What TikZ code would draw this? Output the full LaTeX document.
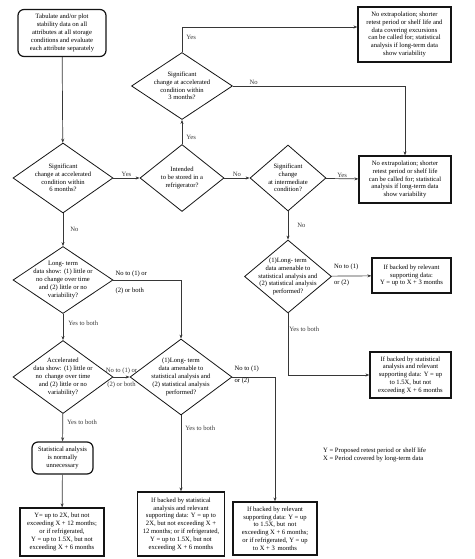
\documentclass[tikz,border=0pt]{standalone}
\usepackage{fontspec}
\setmainfont{Liberation Serif}
\usetikzlibrary{arrows.meta, positioning, shapes.geometric}
\definecolor{flowline}{RGB}{55, 55, 55}
\definecolor{flowdark}{RGB}{20, 20, 20}
\newcommand{\flowfont}{\fontsize{6.6pt}{7.8pt}\selectfont}
\tikzset{
  box/.style={draw=flowdark, line width=1.2pt, align=center, font=\flowfont, inner sep=1.5pt},
  rbox/.style={box, rounded corners=6pt},
  dia/.style={diamond, aspect=1.5, draw=flowdark, line width=0.8pt, align=center, font=\flowfont, inner sep=-9pt},
  lab/.style={font=\flowfont, inner sep=1pt},
  arr/.style={-{Stealth[length=4pt, width=3pt]}, line width=0.7pt, flowline}
}

\begin{document}
\begin{tikzpicture}[x=1pt, y=-1pt]
  \useasboundingbox (0,0) rectangle (474,559);
  % upper part
  \node[rbox, minimum width=88pt, minimum height=47pt] (start) at (62,33) {Tabulate and/or plot\\ stability data on all\\ attributes at all storage\\ conditions and evaluate\\ each attribute separately};
  \node[dia, minimum width=101pt, minimum height=67pt] (acc3) at (182,86) {Significant\\ change at accelerated\\ condition within\\ 3 months?};
  \node[box, minimum width=93pt, minimum height=55pt] (noext1) at (404.5,34.5) {No extrapolation; shorter\\ retest period or shelf life and\\ data covering excursions\\ can be called for; statistical\\ analysis if long-term data\\ show variability};
  \node[dia, minimum width=100pt, minimum height=70pt] (acc6) at (63,178) {Significant\\ change at accelerated\\ condition within\\ 6 months?};
  \node[dia, minimum width=84pt, minimum height=67pt] (fridge) at (182,178) {Intended\\ to be stored in a\\ refrigerator?};
  \node[dia, minimum width=76pt, minimum height=66pt] (inter) at (288,178) {Significant\\ change\\ at intermediate\\ condition?};
  \node[box, minimum width=92pt, minimum height=47pt] (noext2) at (405,179.5) {No extrapolation; shorter\\ retest period or shelf life\\ can be called for; statistical\\ analysis if long-term data\\ show variability};
  % middle part
  \node[dia, minimum width=100pt, minimum height=67pt] (ltdata) at (63,280) {Long- term\\ data show: (1) little or\\ no change over time\\ and (2) little or no\\ variability?};
  \node[dia, minimum width=87pt, minimum height=73pt] (amen1) at (288,276.5) {(1)Long- term\\ data amenable to\\ statistical analysis and\\ (2) statistical analysis\\ performed?};
  \node[box, minimum width=79pt, minimum height=35pt] (back1) at (411.5,275.5) {If backed by relevant\\ supporting data:\\ Y = up to X + 3 months};
  \node[dia, minimum width=100pt, minimum height=73pt] (accdata) at (63,377) {Accelerated\\ data show: (1) little or\\ no\, change over time\\ and (2) little or no\\ variability?};
  \node[dia, minimum width=102pt, minimum height=76pt] (amen2) at (181,377) {(1)Long- term\\ data amenable to\\ statistical analysis and\\ (2) statistical analysis\\ performed?};
  \node[box, minimum width=81pt, minimum height=46pt] (back2) at (410.5,375) {If backed by statistical\\ analysis and relevant\\ supporting data: Y = up\\ to 1.5X, but not\\ exceeding X + 6 months};
  % lower part
  \node[rbox, minimum width=61pt, minimum height=32pt] (unnec) at (62.5,458) {Statistical analysis\\ is normally\\ unnecessary};
  \node[box, minimum width=84pt, minimum height=48pt] (ybox) at (62,532) {Y= up to 2X, but not\\ exceeding X + 12 months;\\ or if refrigerated,\\ Y = up to 1.5X, but not\\ exceeding X + 6 months};
  \node[box, minimum width=87pt, minimum height=64pt] (back3) at (181,524) {If backed by statistical\\ analysis and relevant\\ supporting data: Y = up to\\ 2X, but not exceeding X +\\ 12 months; or if refrigerated,\\ Y = up to 1.5X, but not\\ exceeding X + 6 months};
  \node[box, minimum width=84pt, minimum height=53pt] (back4) at (275,528.5) {If backed by relevant\\ supporting data: Y = up\\ to 1.5X, but\, not\\ exceeding X + 6 months;\\ or if refrigerated, Y = up\\ to X + 3\, months};
  \node[lab, anchor=west, align=left] (legend) at (322,454.5) {Y = Proposed retest period or shelf life\\ X = Period covered by long-term data};
  \coordinate (yesturn) at (182,27);
  % connectors
  \draw[arr] (start) -- (acc6);
  \draw[arr] (acc6) -- node[lab, above] {Yes} (fridge);
  \draw[arr] (fridge) -- node[lab, right=3pt, pos=0.27] {Yes} (acc3);
  \draw[arr] (acc3.north) -- node[lab, right=3pt, pos=0.6] {Yes} (yesturn) -- (yesturn -| noext1.west);
  \draw[arr] (acc3.east) -| node[lab, above, pos=0.06] {No} (noext2.north);
  \draw[arr] (fridge) -- node[lab, above] {No} (inter);
  \draw[arr] (inter) -- node[lab, above] {Yes} (noext2);
  \draw[arr] (inter) -- node[lab, right=8pt] {No} (amen1);
  \draw[arr] (amen1) -- (back1);
  \node[lab, above right=5pt and 1pt of amen1.east] (n1a) {No to (1)};
  \node[lab, below right=2pt and 1pt of amen1.east] (n1b) {or (2)};
  \draw[arr] (amen1.south) |- node[lab, right, pos=0.13] {Yes to both} (back2.west);
  \draw[arr] (acc6) -- node[lab, right=6pt] {No} (ltdata);
  \draw[arr] (ltdata.east) -| (amen2.north);
  \node[lab, above right=2pt and 1pt of ltdata.east] (n2a) {No to (1) or};
  \node[lab, below right=7pt and 1pt of ltdata.east] (n2b) {(2) or both};
  \draw[arr] (ltdata) -- node[lab, right=4pt, pos=0.35] {Yes to both} (accdata);
  \draw[arr] (accdata) -- node[lab, above=2pt] {No to (1) or} node[lab, below=4pt] {(2) or both} (amen2);
  \draw[arr] (amen2.east) -| (back4.north);
  \node[lab, above right=4pt and 1pt of amen2.east] (n3a) {No to (1)};
  \node[lab, below right=0pt and 1pt of amen2.east] (n3b) {or (2)};
  \draw[arr] (amen2) -- node[lab, right=3pt, pos=0.17] {Yes to both} (back3);
  \draw[arr] (accdata) -- node[lab, right=3pt, pos=0.3] {Yes to both} (unnec);
  \draw[arr] (unnec) -- (ybox);
\end{tikzpicture}
\end{document}
